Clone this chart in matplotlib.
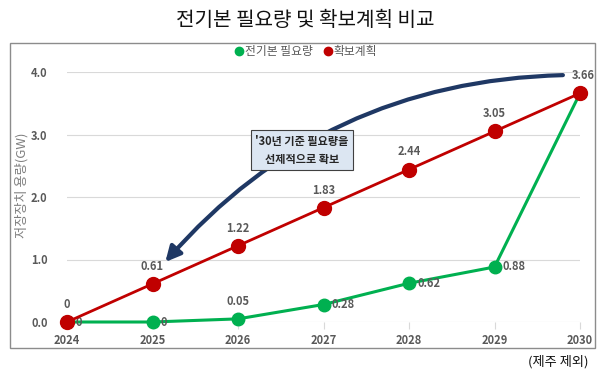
import matplotlib
matplotlib.use("Agg")
import matplotlib.pyplot as plt
from matplotlib.patches import Rectangle
from matplotlib.lines import Line2D

plt.rcParams['font.family'] = ['Noto Sans CJK KR', 'DejaVu Sans']

years = [2024, 2025, 2026, 2027, 2028, 2029, 2030]
need = [0, 0, 0.05, 0.28, 0.62, 0.88, 3.66]
plan = [0, 0.61, 1.22, 1.83, 2.44, 3.05, 3.66]
need_labels = ["0", "0", "0.05", "0.28", "0.62", "0.88", ""]
plan_labels = ["0", "0.61", "1.22", "1.83", "2.44", "3.05", "3.66"]

GREEN = "#00b050"
RED = "#c00000"
NAVY = "#1f3864"
GRAY = "#595959"

fig = plt.figure(figsize=(6.1, 3.84), dpi=100)
ax = fig.add_axes([67/610, 62/384, 513/610, 250/384])

# outer frame
fig.patches.append(Rectangle((10/610, 36/384), 585/610, 305/384, transform=fig.transFigure,
                             fill=False, ec="#8c8c8c", lw=1.0))

ax.plot(years, need, "-o", color=GREEN, lw=2.2, ms=9, clip_on=False, zorder=3)
ax.plot(years, plan, "-o", color=RED, lw=2.0, ms=10, clip_on=False, zorder=4)

lab_kw = dict(fontsize=8, fontweight="bold", color=GRAY)
for i, (x, y, t) in enumerate(zip(years, need, need_labels)):
    if not t:
        continue
    if i == 2:
        ax.annotate(t, (x, y), xytext=(0, 8), textcoords="offset points", ha="center", va="bottom", **lab_kw)
    else:
        ax.annotate(t, (x, y), xytext=(6, 0), textcoords="offset points", ha="left", va="center", **lab_kw)
for i, (x, y, t) in enumerate(zip(years, plan, plan_labels)):
    if i == len(years) - 1:
        ax.annotate(t, (x, y), xytext=(2, 8), textcoords="offset points", ha="center", va="bottom", **lab_kw)
    else:
        ax.annotate(t, (x, y), xytext=(0, 8), textcoords="offset points", ha="center", va="bottom", **lab_kw)

# curved arrow
ax.annotate("", xy=(2025.15, 0.96), xytext=(2029.8, 3.95),
            arrowprops=dict(arrowstyle="-|>,head_length=0.9,head_width=0.45", color=NAVY, lw=3,
                            connectionstyle="arc3,rad=0.22", shrinkA=0, shrinkB=0),
            annotation_clip=False, zorder=2)
ax.text(2026.75, 2.75, "'30년 기준 필요량을\n선제적으로 확보", ha="center", va="center",
        fontsize=8, fontweight="bold", color="#262626", linespacing=1.5, zorder=6,
        bbox=dict(boxstyle="square,pad=0.4", fc="#dce6f2", ec="#404040", lw=0.8))

ax.set_xlim(2024, 2030)
ax.set_ylim(0, 4.0)
ax.set_xticks(years)
ax.set_yticks([0, 1, 2, 3, 4])
ax.set_yticklabels(["0.0", "1.0", "2.0", "3.0", "4.0"])
ax.grid(axis="y", color="#d9d9d9", lw=0.8)
ax.set_axisbelow(True)
for s in ax.spines.values():
    s.set_visible(False)
ax.tick_params(axis="y", length=0, pad=14, labelsize=8, labelcolor=GRAY)
ax.tick_params(axis="x", length=5, color="#d9d9d9", pad=4, labelsize=8, labelcolor=GRAY)
for lbl in ax.get_xticklabels() + ax.get_yticklabels():
    lbl.set_fontweight("bold")

fig.text(22/610, 1 - 185/384, "저장장치 용량(GW)", rotation=90, ha="center", va="center",
         fontsize=9.5, color="#7f7f7f")

fig.text(0.5, 1 - 20/384, "전기본 필요량 및 확보계획 비교", ha="center", va="center", fontsize=14.5,
         color="#111111")

handles = [Line2D([], [], ls="none", marker="o", color=GREEN, ms=6),
           Line2D([], [], ls="none", marker="o", color=RED, ms=6)]
fig.legend(handles, ["전기본 필요량", "확보계획"], loc="center", bbox_to_anchor=(305/610, 1 - 52/384),
           ncol=2, frameon=False, fontsize=8.5, labelcolor=GRAY, handletextpad=0.0,
           columnspacing=0.8, handlelength=1.0)

fig.text(588/610, 1 - 362/384, "(제주 제외)", ha="right", va="center", fontsize=9.5, color="#111111")

fig.savefig("out.png", dpi=100)
